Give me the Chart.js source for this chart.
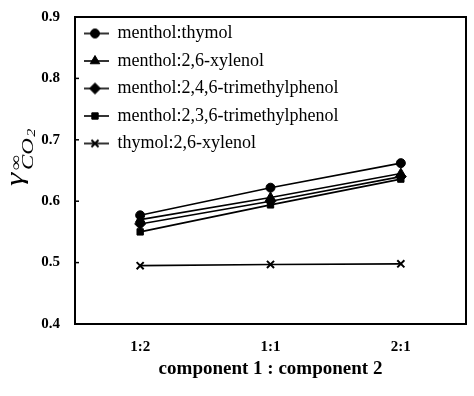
<!DOCTYPE html>
<html>
<head>
<meta charset="utf-8">
<script src="https://cdn.jsdelivr.net/npm/chart.js@4.4.1/dist/chart.umd.min.js"></script>
<style>
html, body { margin: 0; padding: 0; background: #fff; }
</style>
</head>
<body>
<canvas id="gamma_chart" width="474" height="396"></canvas>
<script>
const ratios = ['1:2', '1:1', '2:1'];
const mentholThymol = [0.577, 0.622, 0.662];
const mentholXylenol = [0.570, 0.606, 0.645];
const menthol246 = [0.563, 0.600, 0.640];
const menthol236 = [0.550, 0.594, 0.636];
const thymolXylenol = [0.495, 0.497, 0.498];
const seriesNames = [
    'menthol:thymol',
    'menthol:2,6-xylenol',
    'menthol:2,4,6-trimethylphenol',
    'menthol:2,3,6-trimethylphenol',
    'thymol:2,6-xylenol'
];
const yMin = 0.4, yMax = 0.9, yStep = 0.1;

const serif = '"Liberation Serif", "Times New Roman", serif';
const styles = ['circle', 'triangle', 'rectRot', 'rect', 'crossRot'];
const radii = [4.5, 5.5, 5.5, 4.5, 5];

function makeSet(i, values) {
    return {
        label: seriesNames[i],
        data: values,
        borderColor: '#000',
        backgroundColor: '#000',
        borderWidth: 1.6,
        pointStyle: styles[i],
        pointRadius: radii[i],
        pointBorderWidth: styles[i] === 'crossRot' ? 2 : 1,
        pointBackgroundColor: '#000',
        pointBorderColor: '#000',
        tension: 0
    };
}

// little line + marker picture for each legend row
function legendIcon(i) {
    const c = document.createElement('canvas');
    c.width = 25;
    c.height = 14;
    const g = c.getContext('2d');
    g.strokeStyle = '#000';
    g.fillStyle = '#000';
    g.lineWidth = 1.6;
    g.beginPath();
    g.moveTo(0, 7);
    g.lineTo(25, 7);
    g.stroke();
    g.lineWidth = styles[i] === 'crossRot' ? 2 : 1;
    Chart.helpers.drawPoint(g, {pointStyle: styles[i], radius: radii[i], rotation: 0, borderWidth: g.lineWidth}, 11, 7);
    return c;
}

// legend sits inside the plot, just under the top frame
const legendShift = {
    id: 'legendShift',
    afterLayout(chart) {
        const lg = chart.legend;
        const dy = chart.chartArea.top - 2 - lg.top;
        lg.top += dy;
        lg.bottom += dy;
    }
};

const frameAndTicks = {
    id: 'frameAndTicks',
    afterDraw(chart) {
        const {ctx, chartArea} = chart;
        const y = chart.scales.y;
        ctx.save();
        ctx.strokeStyle = '#000';
        ctx.lineWidth = 2;
        ctx.strokeRect(chartArea.left, chartArea.top, chartArea.right - chartArea.left, chartArea.bottom - chartArea.top);
        ctx.lineWidth = 1.5;
        y.ticks.forEach(t => {
            const py = y.getPixelForValue(t.value);
            ctx.beginPath();
            ctx.moveTo(chartArea.left, py);
            ctx.lineTo(chartArea.left + 4, py);
            ctx.stroke();
        });
        ctx.restore();
    }
};

const yTitle = {
    id: 'yTitle',
    afterDraw(chart) {
        const ctx = chart.ctx;
        ctx.save();
        ctx.translate(23, 186);
        ctx.rotate(-Math.PI / 2);
        ctx.scale(1.35, 1);
        ctx.fillStyle = '#000';
        ctx.textBaseline = 'alphabetic';
        ctx.font = 'italic 25px ' + serif;
        ctx.fillText('\u03B3', 0, 0);
        const w = ctx.measureText('\u03B3').width + 2;
        ctx.font = '16px ' + serif;
        ctx.fillText('\u221E', w, -2);
        ctx.font = 'italic 17px ' + serif;
        ctx.fillText('CO', w, 10);
        const w2 = ctx.measureText('CO').width;
        ctx.font = 'italic 12px ' + serif;
        ctx.fillText('2', w + w2 + 1, 12);
        ctx.restore();
    }
};

const config = {
    type: 'line',
    data: {
        labels: ratios,
        datasets: [
            makeSet(0, mentholThymol),
            makeSet(1, mentholXylenol),
            makeSet(2, menthol246),
            makeSet(3, menthol236),
            makeSet(4, thymolXylenol)
        ]
    },
    options: {
        responsive: false,
        animation: false,
        layout: {padding: {left: 0, right: 8, top: 17, bottom: 0}},
        plugins: {
            legend: {
                position: 'chartArea',
                align: 'start',
                labels: {
                    usePointStyle: true,
                    pointStyleWidth: 24,
                    padding: 9.5,
                    color: '#000',
                    font: {family: serif, size: 18},
                    generateLabels: chart => chart.data.datasets.map((ds, i) => ({
                        text: ds.label,
                        pointStyle: legendIcon(i),
                        fontColor: '#000',
                        datasetIndex: i,
                        lineWidth: 0
                    }))
                }
            },
            tooltip: {enabled: false}
        },
        scales: {
            x: {
                offset: true,
                grid: {display: false, drawTicks: false},
                border: {display: false},
                ticks: {color: '#000', padding: 14, font: {family: serif, size: 15, weight: 'bold'}},
                title: {
                    display: true,
                    text: 'component 1 : component 2',
                    color: '#000',
                    padding: {top: 4, bottom: 16},
                    font: {family: serif, size: 19, weight: 'bold'}
                },
                afterFit: s => { s.height = 72; }
            },
            y: {
                min: yMin,
                max: yMax,
                grid: {display: false, drawTicks: false},
                border: {display: false},
                ticks: {
                    stepSize: yStep,
                    color: '#000',
                    padding: 15,
                    font: {family: serif, size: 15, weight: 'bold'},
                    callback: v => v.toFixed(1)
                },
                afterFit: s => {
                    s.width = 75;
                    s.paddingTop = 0;
                    s.paddingBottom = 0;
                }
            }
        }
    },
    plugins: [legendShift, frameAndTicks, yTitle]
};

const gammaChart = new Chart(document.getElementById('gamma_chart'), config);
</script>
</body>
</html>
